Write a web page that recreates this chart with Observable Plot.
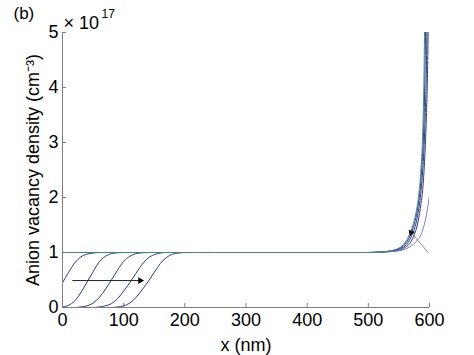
<!DOCTYPE html>
<html><head><meta charset="utf-8">
<script src="https://cdn.jsdelivr.net/npm/d3@7"></script>
<script src="https://cdn.jsdelivr.net/npm/@observablehq/plot@0.6"></script>
<style>body{margin:0;background:#fff}</style>
</head><body><div id="chart"></div>
<script>
// tick values
const xTicks = [0, 100, 200, 300, 400, 500, 600];
const yTicks = [0, 1, 2, 3, 4, 5];

// left-side profiles (x in nm, density in 1e17 cm^-3)
const leftX = [0,10,20,30,40,50,60,70,80,90,100,110,120,130,140,150,160,170,180,190,200];
const left1 = [0.45,0.64,0.81,0.92,0.97,0.99,1,1,1,1,1,1,1,1,1,1,1,1,1,1,1];
const left2 = [0.01,0.04,0.12,0.27,0.46,0.65,0.83,0.93,0.98,0.995,1,1,1,1,1,1,1,1,1,1,1];
const left3 = [0,0,0,0.01,0.03,0.08,0.18,0.33,0.5,0.68,0.84,0.93,0.98,0.995,1,1,1,1,1,1,1];
const left4 = [0,0,0,0,0,0,0.01,0.03,0.07,0.16,0.3,0.45,0.62,0.78,0.9,0.96,0.99,1,1,1,1];
const left5 = [0,0,0,0,0,0,0,0,0,0.01,0.03,0.08,0.18,0.32,0.47,0.64,0.8,0.91,0.97,0.99,1];

// right-side profiles
const rPx = [500,520,530,540,550,560,570,580,585,590,595,600];
const rPy = [1.0,1.005,1.01,1.02,1.03,1.06,1.12,1.22,1.3,1.45,1.68,2.05];
const rB1x = [0,500,520,540,550,560,565,570,575,580,583,586,588,590,591,592];
const rB1y = [1.0,1.0,1.01,1.04,1.08,1.18,1.27,1.4,1.58,1.85,2.1,2.5,2.9,3.6,4.2,5.2];
const rB2x = [500,520,540,550,560,565,570,575,580,585,588,590,592,593,594];
const rB2y = [1.0,1.01,1.035,1.07,1.15,1.23,1.35,1.52,1.76,2.2,2.65,3.1,3.9,4.6,5.2];
const rB3x = [500,520,540,550,560,570,575,580,585,588,591,593,595,596];
const rB3y = [1.0,1.005,1.03,1.06,1.12,1.28,1.42,1.64,2.0,2.35,2.9,3.5,4.4,5.2];
const rB4x = [500,540,550,560,570,575,580,585,590,593,595,597,598];
const rB4y = [1.0,1.02,1.04,1.09,1.2,1.32,1.5,1.8,2.3,2.9,3.5,4.4,5.2];

// arrows (data coordinates)
const arrowLines = [
  {x1: 16, y1: 0.49, x2: 127, y2: 0.49, color: "#222"},
  {x1: 598, y1: 1.0, x2: 570, y2: 1.36, color: "#8a8a8a"}
];
const arrowHeads = [
  {x: 127, y: 0.49, rotate: 90},
  {x: 570, y: 1.36, rotate: -41}
];

const navy = "#2d3a8c", green = "#3b8f6e", purple = "#7b78e6", axisGray = "#808080";

function toRows(name, xs, ys) { return xs.map((x, i) => ({name, x, y: ys[i]})); }
const navyRows = [
  ...toRows("l1", leftX, left1), ...toRows("l2", leftX, left2), ...toRows("l3", leftX, left3),
  ...toRows("l4", leftX, left4), ...toRows("l5", leftX, left5),
  ...toRows("b2", rB2x, rB2y), ...toRows("b3", rB3x, rB3y), ...toRows("b4", rB4x, rB4y)
];
const purpleRows = toRows("p", rPx, rPy);
const greenRows = toRows("g", rB1x, rB1y);

const W = 474, H = 355, mL = 62, mR = 45, mT = 32, mB = 48;
const fw = W - mL - mR, fh = H - mT - mB;

const chart = Plot.plot({
  width: W, height: H,
  marginLeft: mL, marginRight: mR, marginTop: mT, marginBottom: mB,
  style: {fontFamily: "'Liberation Sans', Arial, sans-serif", fontSize: "18px", background: "#fff", color: "#000"},
  x: {domain: [0, 600], label: null},
  y: {domain: [0, 5], label: null},
  marks: [
    Plot.line(navyRows, {x: "x", y: "y", z: "name", stroke: navy, strokeWidth: 1, curve: "monotone-x", clip: true}),
    Plot.line(purpleRows, {x: "x", y: "y", stroke: purple, strokeWidth: 1, curve: "monotone-x", clip: true}),
    Plot.line(greenRows, {x: "x", y: "y", stroke: green, strokeWidth: 1, curve: "monotone-x", clip: true}),
    Plot.ruleY([0], {stroke: axisGray}),
    Plot.ruleX([0], {stroke: axisGray}),
    Plot.tickX(xTicks, {x: d => d, stroke: axisGray, insetTop: fh - 4}),
    Plot.tickY(yTicks, {y: d => d, stroke: axisGray, insetRight: fw - 4}),
    Plot.axisX({ticks: xTicks, tickSize: 0, tickPadding: 6, label: null, fontSize: 18, tickFormat: d => String(d)}),
    Plot.axisY({ticks: yTicks, tickSize: 0, tickPadding: 4, label: null, fontSize: 18, tickFormat: d => String(d)}),
    Plot.link(arrowLines, {x1: "x1", y1: "y1", x2: "x2", y2: "y2", stroke: "color", strokeWidth: 1}),
    Plot.dot(arrowHeads, {x: "x", y: "y", rotate: "rotate", symbol: "triangle2", r: 3.2, fill: "#000", stroke: "none"}),
    Plot.text(["(b)"], {text: d => d, frameAnchor: "top-left", dx: -49, dy: -19, textAnchor: "start", lineAnchor: "middle", fontSize: 17}),
    Plot.text(["\u00d7 10"], {text: d => d, frameAnchor: "top-left", dx: 1, dy: -9, textAnchor: "start", lineAnchor: "middle", fontSize: 18}),
    Plot.text(["17"], {text: d => d, frameAnchor: "top-left", dx: 39, dy: -18, textAnchor: "start", lineAnchor: "middle", fontSize: 12}),
    Plot.text(["Anion vacancy density (cm\u207b\u00b3)"], {text: d => d, frameAnchor: "left", dx: -29, rotate: -90, textAnchor: "middle", lineAnchor: "middle", fontSize: 18}),
    Plot.text(["x (nm)"], {text: d => d, frameAnchor: "bottom", dy: 38, textAnchor: "middle", lineAnchor: "middle", fontSize: 18})
  ]
});
document.getElementById("chart").appendChild(chart);
</script>
</body></html>
